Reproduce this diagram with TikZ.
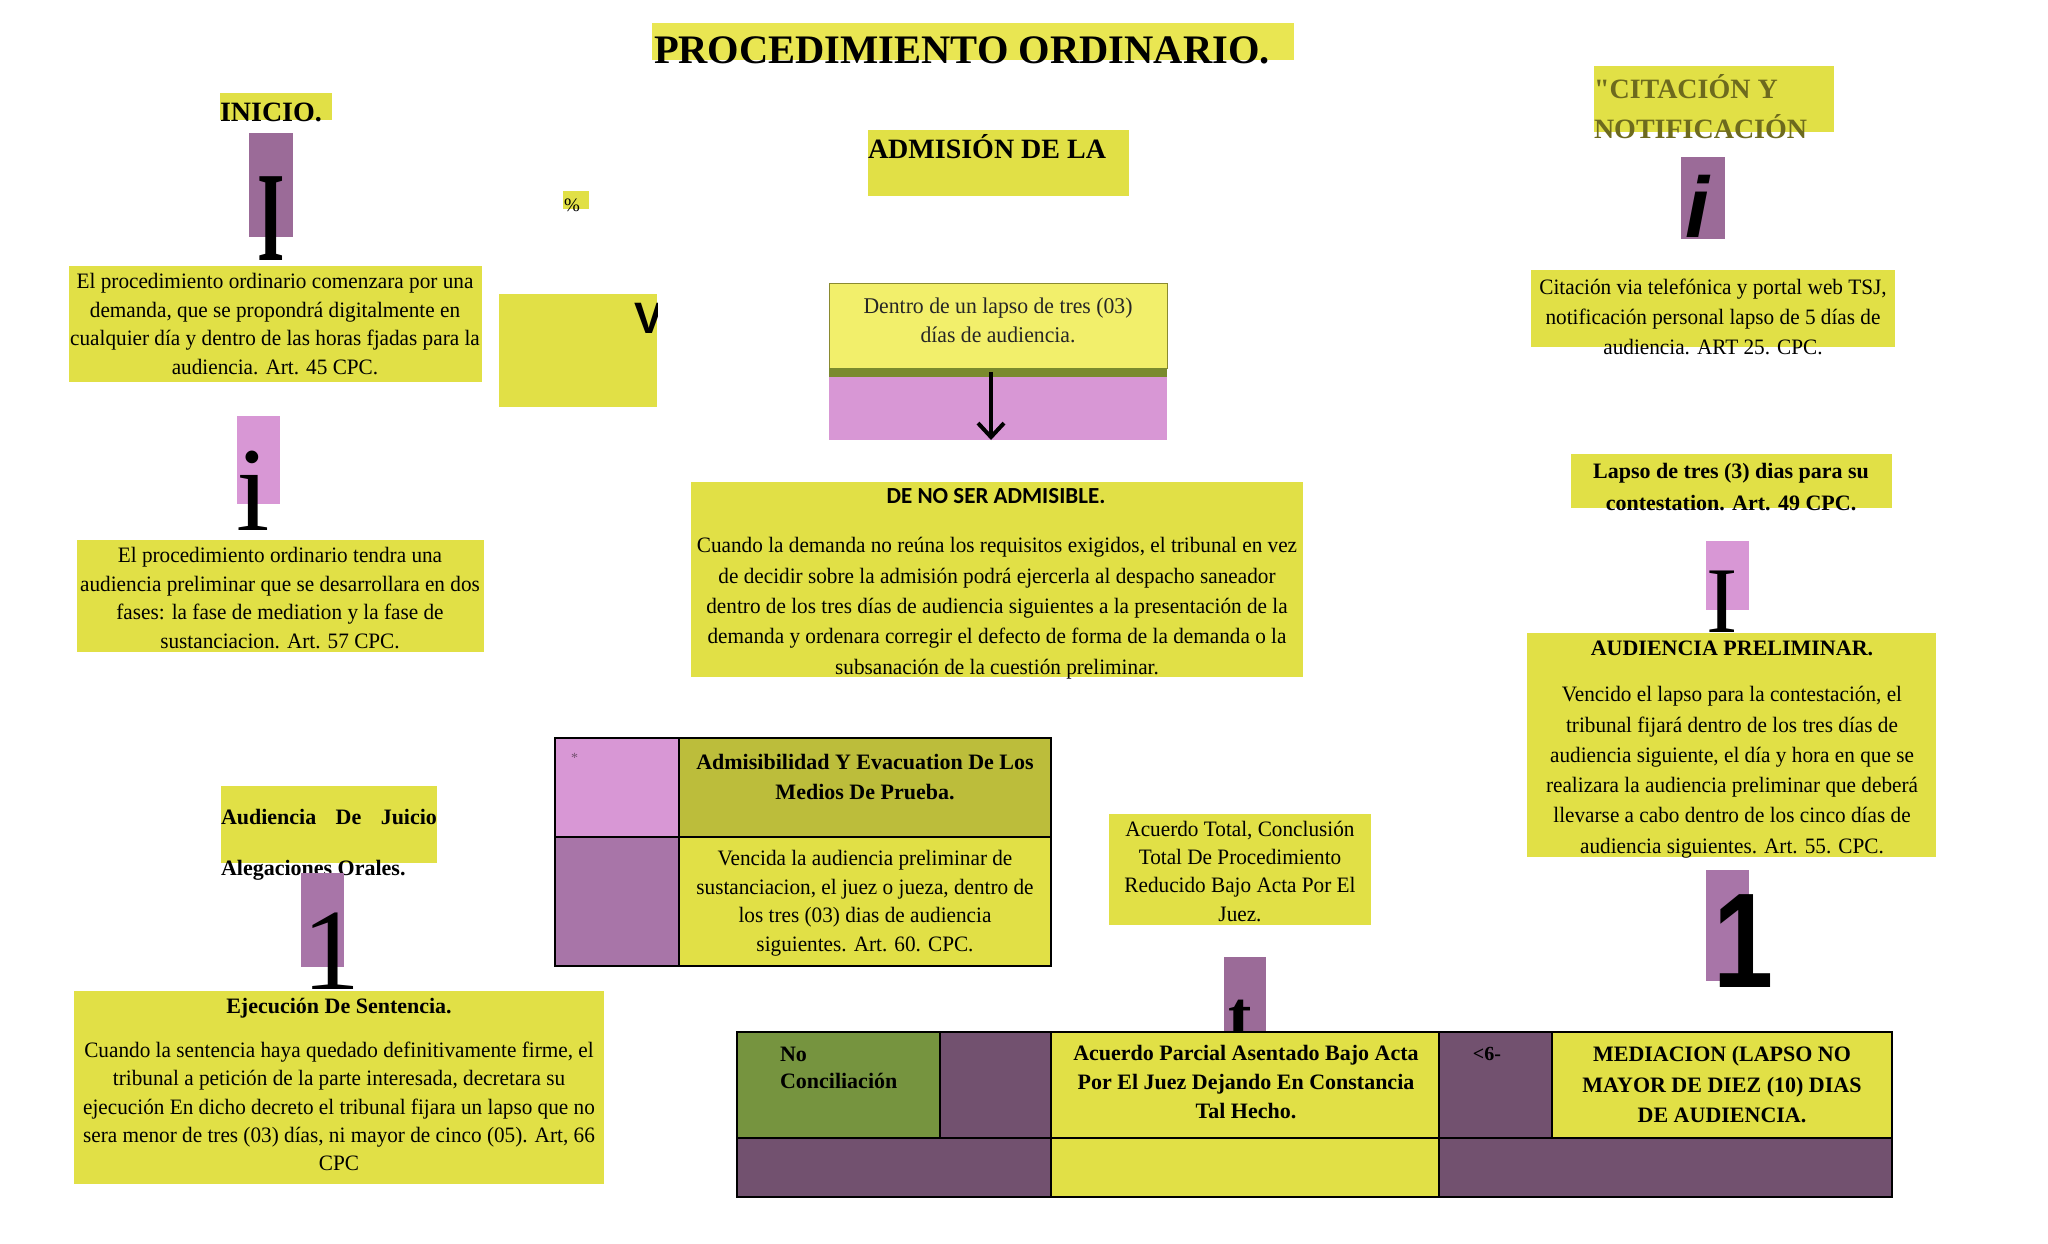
\documentclass[tikz,border=0pt]{standalone}
\usepackage{fontspec}
\setmainfont{Liberation Serif}
\newfontfamily\regf{Liberation Serif}[FakeStretch=0.965]
\newfontfamily\rawf{Liberation Serif}[Ligatures=TeXOff]
\newfontfamily\calb{Carlito}
\newfontfamily\sansf{Liberation Sans}
\usetikzlibrary{arrows.meta}
\definecolor{yel}{HTML}{E1E046}
\definecolor{yeltitle}{HTML}{E9E652}
\definecolor{yellight}{HTML}{F2EF6B}
\definecolor{olivebd}{HTML}{8A8A30}
\definecolor{bandgr}{HTML}{7A8A2E}
\definecolor{purA}{HTML}{9B6B98}
\definecolor{pink}{HTML}{D897D5}
\definecolor{purB}{HTML}{A875A8}
\definecolor{purD}{HTML}{72516F}
\definecolor{grn}{HTML}{76943F}
\definecolor{oliv}{HTML}{BCBD3B}
\definecolor{citc}{HTML}{6D6A1E}
\newcommand\fb{\regf\fontsize{22}{28.5}\selectfont}
\newcommand\fbw{\regf\fontsize{22}{30.3}\selectfont}
\tikzset{
  txt/.style={inner sep=0pt, outer sep=0pt, anchor=north, align=center, yshift=-5.5pt, execute at begin node=\strut},
  lbl/.style={inner sep=0pt, outer sep=0pt, anchor=base},
  lblw/.style={inner sep=0pt, outer sep=0pt, anchor=base west},
  glyph/.style={inner sep=0pt, outer sep=0pt, anchor=base},
  tbl/.style={line width=2.5pt, draw=black},
}
\begin{document}
\begin{tikzpicture}[x=1pt,y=-1pt]
\useasboundingbox (0,0) rectangle (2048,1243);
\fill[white] (0,0) rectangle (2048,1243);

% ---------- title ----------
\fill[yeltitle] (652,23) rectangle (1294,60);
\node[lblw] (title) at (654,63) {\bfseries\fontsize{40.5}{40.5}\selectfont PROCEDIMIENTO ORDINARIO.};

% ---------- left column ----------
\fill[yel] (220,93) rectangle (332,120);
\node[lblw] (inicio) at (220,121) {\bfseries\fontsize{28}{28}\selectfont INICIO.};
\fill[purA] (249,133) rectangle (293,237);
\node[glyph] (gI1) at (271,260) {\bfseries\fontsize{128}{128}\selectfont\scalebox{0.55}[1]{I}};

\fill[yel] (69,266) rectangle (482,382);
\node[txt, font=\fb] (t1) at (275,268.05) {El procedimiento ordinario comenzara por una\\demanda, que se propondrá digitalmente en\\cualquier día y dentro de las horas fjadas para la\\audiencia. Art. 45 CPC.};

\fill[pink] (237,416) rectangle (280,504);
\node[glyph] (gi2) at (253,530) {\fontsize{120}{120}\selectfont i};

\fill[yel] (77,540) rectangle (484,652);
\node[txt, font=\fb] (t2) at (280,542.05) {El procedimiento ordinario tendra una\\audiencia preliminar que se desarrollara en dos\\fases: la fase de mediation y la fase de\\sustanciacion. Art. 57 CPC.};

\fill[yel] (221,786) rectangle (437,863);
\node[lblw] (juicio) at (221,824) {\bfseries\fontsize{22}{22}\selectfont\makebox[216pt][s]{Audiencia\hfill De\hfill Juicio}};
\node[lblw] (aleg) at (221,875) {\bfseries\fontsize{22}{22}\selectfont Alegaciones Orales.};
\fill[purB] (301,873) rectangle (344,967);
\node[glyph] (g13) at (331,989) {\fontsize{116}{116}\selectfont 1};

\fill[yel] (74,991) rectangle (604,1184);
\node[lbl] (ejt) at (339,1013) {\bfseries\fontsize{22}{22}\selectfont Ejecución De Sentencia.};
\node[txt, font=\regf\fontsize{22}{28.4}\selectfont] (ejb) at (339,1036.2) {Cuando la sentencia haya quedado definitivamente firme, el\\tribunal a petición de la parte interesada, decretara su\\ejecución En dicho decreto el tribunal fijara un lapso que no\\sera menor de tres (03) días, ni mayor de cinco (05). Art, 66\\CPC};

% ---------- small boxes ----------
\fill[yel] (563,191) rectangle (589,209);
\node[lblw] (pct) at (564,211) {\fontsize{19}{19}\selectfont\%};
\fill[yel] (499,294) rectangle (657,407);
\begin{scope}
\clip (499,294) rectangle (657,407);
\node[lblw] (gV) at (634,333) {\sansf\bfseries\fontsize{44}{44}\selectfont V};
\end{scope}

% ---------- center ----------
\fill[yel] (868,130) rectangle (1129,196);
\node[lblw] (adm) at (868,158) {\bfseries\fontsize{28}{28}\selectfont ADMISIÓN DE LA};

\fill[yellight] (829,283) rectangle (1167,368);
\draw[olivebd, line width=1pt] (829,283) rectangle (1167,368);
\fill[bandgr] (829,368) rectangle (1167,377);
\fill[pink] (829,377) rectangle (1167,440);
\node[txt, font=\regf\fontsize{22.5}{28.5}\selectfont, text=black!85] (dentro) at (998,292.4) {Dentro de un lapso de tres (03)\\días de audiencia.};
\coordinate (arrS) at (991,372);
\coordinate (arrE) at (991,440);
\draw[line width=4pt, -{Straight Barb[length=14pt,width=26pt,line width=4pt]}] (arrS) -- (arrE);

\fill[yel] (691,482) rectangle (1303,677);
\node[lbl] (nosert) at (996,503) {\calb\bfseries\fontsize{23}{23}\selectfont DE NO SER ADMISIBLE.};
\node[txt, font=\fbw, yshift=-1pt] (noserb) at (997,531) {Cuando la demanda no reúna los requisitos exigidos, el tribunal en vez\\de decidir sobre la admisión podrá ejercerla al despacho saneador\\dentro de los tres días de audiencia siguientes a la presentación de la\\demanda y ordenara corregir el defecto de forma de la demanda o la\\subsanación de la cuestión preliminar.};

% middle table
\fill[pink] (555,738) rectangle (679,837);
\fill[oliv] (679,738) rectangle (1051,837);
\fill[purB] (555,837) rectangle (679,966);
\fill[yel] (679,837) rectangle (1051,966);
\draw[tbl] (555,738) rectangle (1051,966);
\draw[tbl] (679,738) -- (679,966);
\draw[tbl] (555,837) -- (1051,837);
\node[lblw, text=purD] (ast) at (571,762) {\fontsize{14}{14}\selectfont *};
\node[txt, font=\bfseries\fontsize{22}{30}\selectfont] (admis) at (865,749) {Admisibilidad Y Evacuation De Los\\Medios De Prueba.};
\node[txt, font=\regf\fontsize{22}{28.5}\selectfont] (vencida) at (865,845) {Vencida la audiencia preliminar de\\sustanciacion, el juez o jueza, dentro de\\los tres (03) dias de audiencia\\siguientes. Art. 60. CPC.};

% acuerdo total
\fill[yel] (1109,814) rectangle (1371,925);
\node[txt, font=\regf\fontsize{22}{28.4}\selectfont] (acTot) at (1240,815.2) {Acuerdo Total, Conclusión\\Total De Procedimiento\\Reducido Bajo Acta Por El\\Juez.};
\fill[purA] (1224,957) rectangle (1266,1032);
\node[glyph] (gt) at (1240,1039) {\bfseries\fontsize{70}{70}\selectfont t};

% ---------- right column ----------
\fill[yel] (1594,66) rectangle (1834,132);
\node[txt, anchor=north west, align=left, text=citc, font=\rawf\bfseries\fontsize{28}{40}\selectfont] (citt) at (1594,69) {"CITACIÓN Y\\NOTIFICACIÓN};
\fill[purA] (1681,157) rectangle (1725,239);
\node[glyph, anchor=base west] (gi4) at (1685,237) {\sansf\bfseries\itshape\fontsize{86}{86}\selectfont i};

\fill[yel] (1531,270) rectangle (1895,347);
\node[txt, font=\regf\fontsize{22}{30}\selectfont] (cit) at (1713,274) {Citación via telefónica y portal web TSJ,\\notificación personal lapso de 5 días de\\audiencia. ART 25. CPC.};

\fill[yel] (1571,454) rectangle (1892,508);
\node[txt, font=\bfseries\fontsize{22}{31.5}\selectfont, yshift=-2.5pt] (lapso) at (1731,455.6) {Lapso de tres (3) dias para su\\contestation. Art. 49 CPC.};

\fill[pink] (1706,541) rectangle (1749,610);
\node[glyph] (gI5) at (1722,632) {\fontsize{94}{94}\selectfont I};

\fill[yel] (1527,633) rectangle (1936,857);
\node[lbl] (audt) at (1732,655) {\bfseries\fontsize{22}{22}\selectfont AUDIENCIA PRELIMINAR.};
\node[txt, font=\fbw, yshift=-1pt] (audb) at (1732,679.9) {Vencido el lapso para la contestación, el\\tribunal fijará dentro de los tres días de\\audiencia siguiente, el día y hora en que se\\realizara la audiencia preliminar que deberá\\llevarse a cabo dentro de los cinco días de\\audiencia siguientes. Art. 55. CPC.};

\fill[purB] (1706,870) rectangle (1749,981);
\node[glyph] (g16) at (1744,987) {\sansf\bfseries\fontsize{135}{135}\selectfont\scalebox{0.8}[1]{1}};

% ---------- bottom table ----------
\fill[grn] (737,1032) rectangle (940,1138);
\fill[purD] (940,1032) rectangle (1051,1138);
\fill[yel] (1051,1032) rectangle (1439,1138);
\fill[purD] (1439,1032) rectangle (1552,1138);
\fill[yel] (1552,1032) rectangle (1892,1138);
\fill[purD] (737,1138) rectangle (1051,1197);
\fill[yel] (1051,1138) rectangle (1439,1197);
\fill[purD] (1439,1138) rectangle (1892,1197);
\draw[tbl] (737,1032) rectangle (1892,1197);
\draw[tbl] (737,1138) -- (1892,1138);
\draw[tbl] (940,1032) -- (940,1138);
\draw[tbl] (1051,1032) -- (1051,1197);
\draw[tbl] (1439,1032) -- (1439,1197);
\draw[tbl] (1552,1032) -- (1552,1138);
\node[txt, anchor=north west, align=left, font=\bfseries\fontsize{22}{26.5}\selectfont, yshift=1pt] (noconc) at (780,1042.8) {No\\Conciliación};
\node[txt, font=\bfseries\fontsize{22}{28.7}\selectfont] (acPar) at (1246,1040) {Acuerdo Parcial Asentado Bajo Acta\\Por El Juez Dejando En Constancia\\Tal Hecho.};
\node[lbl] (six) at (1487,1060) {\bfseries\fontsize{20}{20}\selectfont <6-};
\node[txt, font=\bfseries\fontsize{22}{30.5}\selectfont] (med) at (1722,1041) {MEDIACION (LAPSO NO\\MAYOR DE DIEZ (10) DIAS\\DE AUDIENCIA.};
\end{tikzpicture}
\end{document}
